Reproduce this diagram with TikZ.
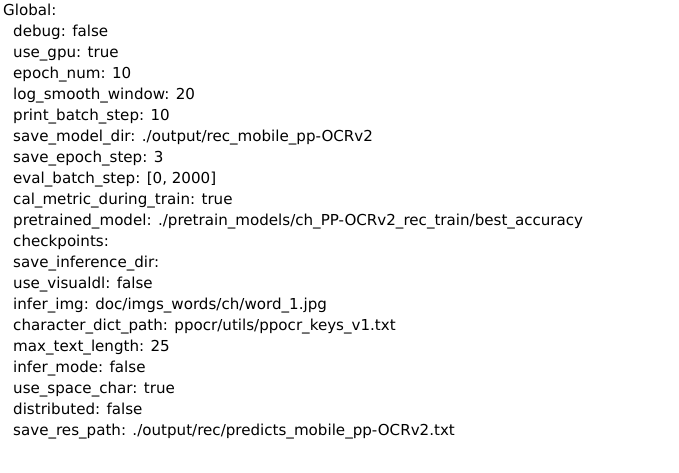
\documentclass[tikz,border=0pt]{standalone}
\usepackage{fontspec}
\setmainfont{DejaVu Sans}
\begin{document}
\begin{tikzpicture}[x=1pt,y=-1pt,txt/.style={anchor=base west,inner sep=0pt,font=\fontsize{15.1}{16}\selectfont}]
\useasboundingbox (0,0) rectangle (679,472);
\fill[white] (0,0) rectangle (679,472);
\node[txt] (g) at (3,15) {Global:};
\foreach \t [count=\i] in {
debug: false,
use\_gpu: true,
epoch\_num: 10,
log\_smooth\_window: 20,
print\_batch\_step: 10,
save\_model\_dir: ./output/rec\_mobile\_pp-OCRv2,
save\_epoch\_step: 3,
eval\_batch\_step: {[0, 2000]},
cal\_metric\_during\_train: true,
pretrained\_model: ./pretrain\_models/ch\_PP-OCRv2\_rec\_train/best\_accuracy,
checkpoints:,
save\_inference\_dir:,
use\_visualdl: false,
infer\_img: doc/imgs\_words/ch/word\_1.jpg,
character\_dict\_path: ppocr/utils/ppocr\_keys\_v1.txt,
max\_text\_length: 25,
infer\_mode: false,
use\_space\_char: true,
distributed: false,
save\_res\_path: ./output/rec/predicts\_mobile\_pp-OCRv2.txt}
{\node[txt] (l\i) at (13,15+21*\i) {\t};}
\end{tikzpicture}
\end{document}
